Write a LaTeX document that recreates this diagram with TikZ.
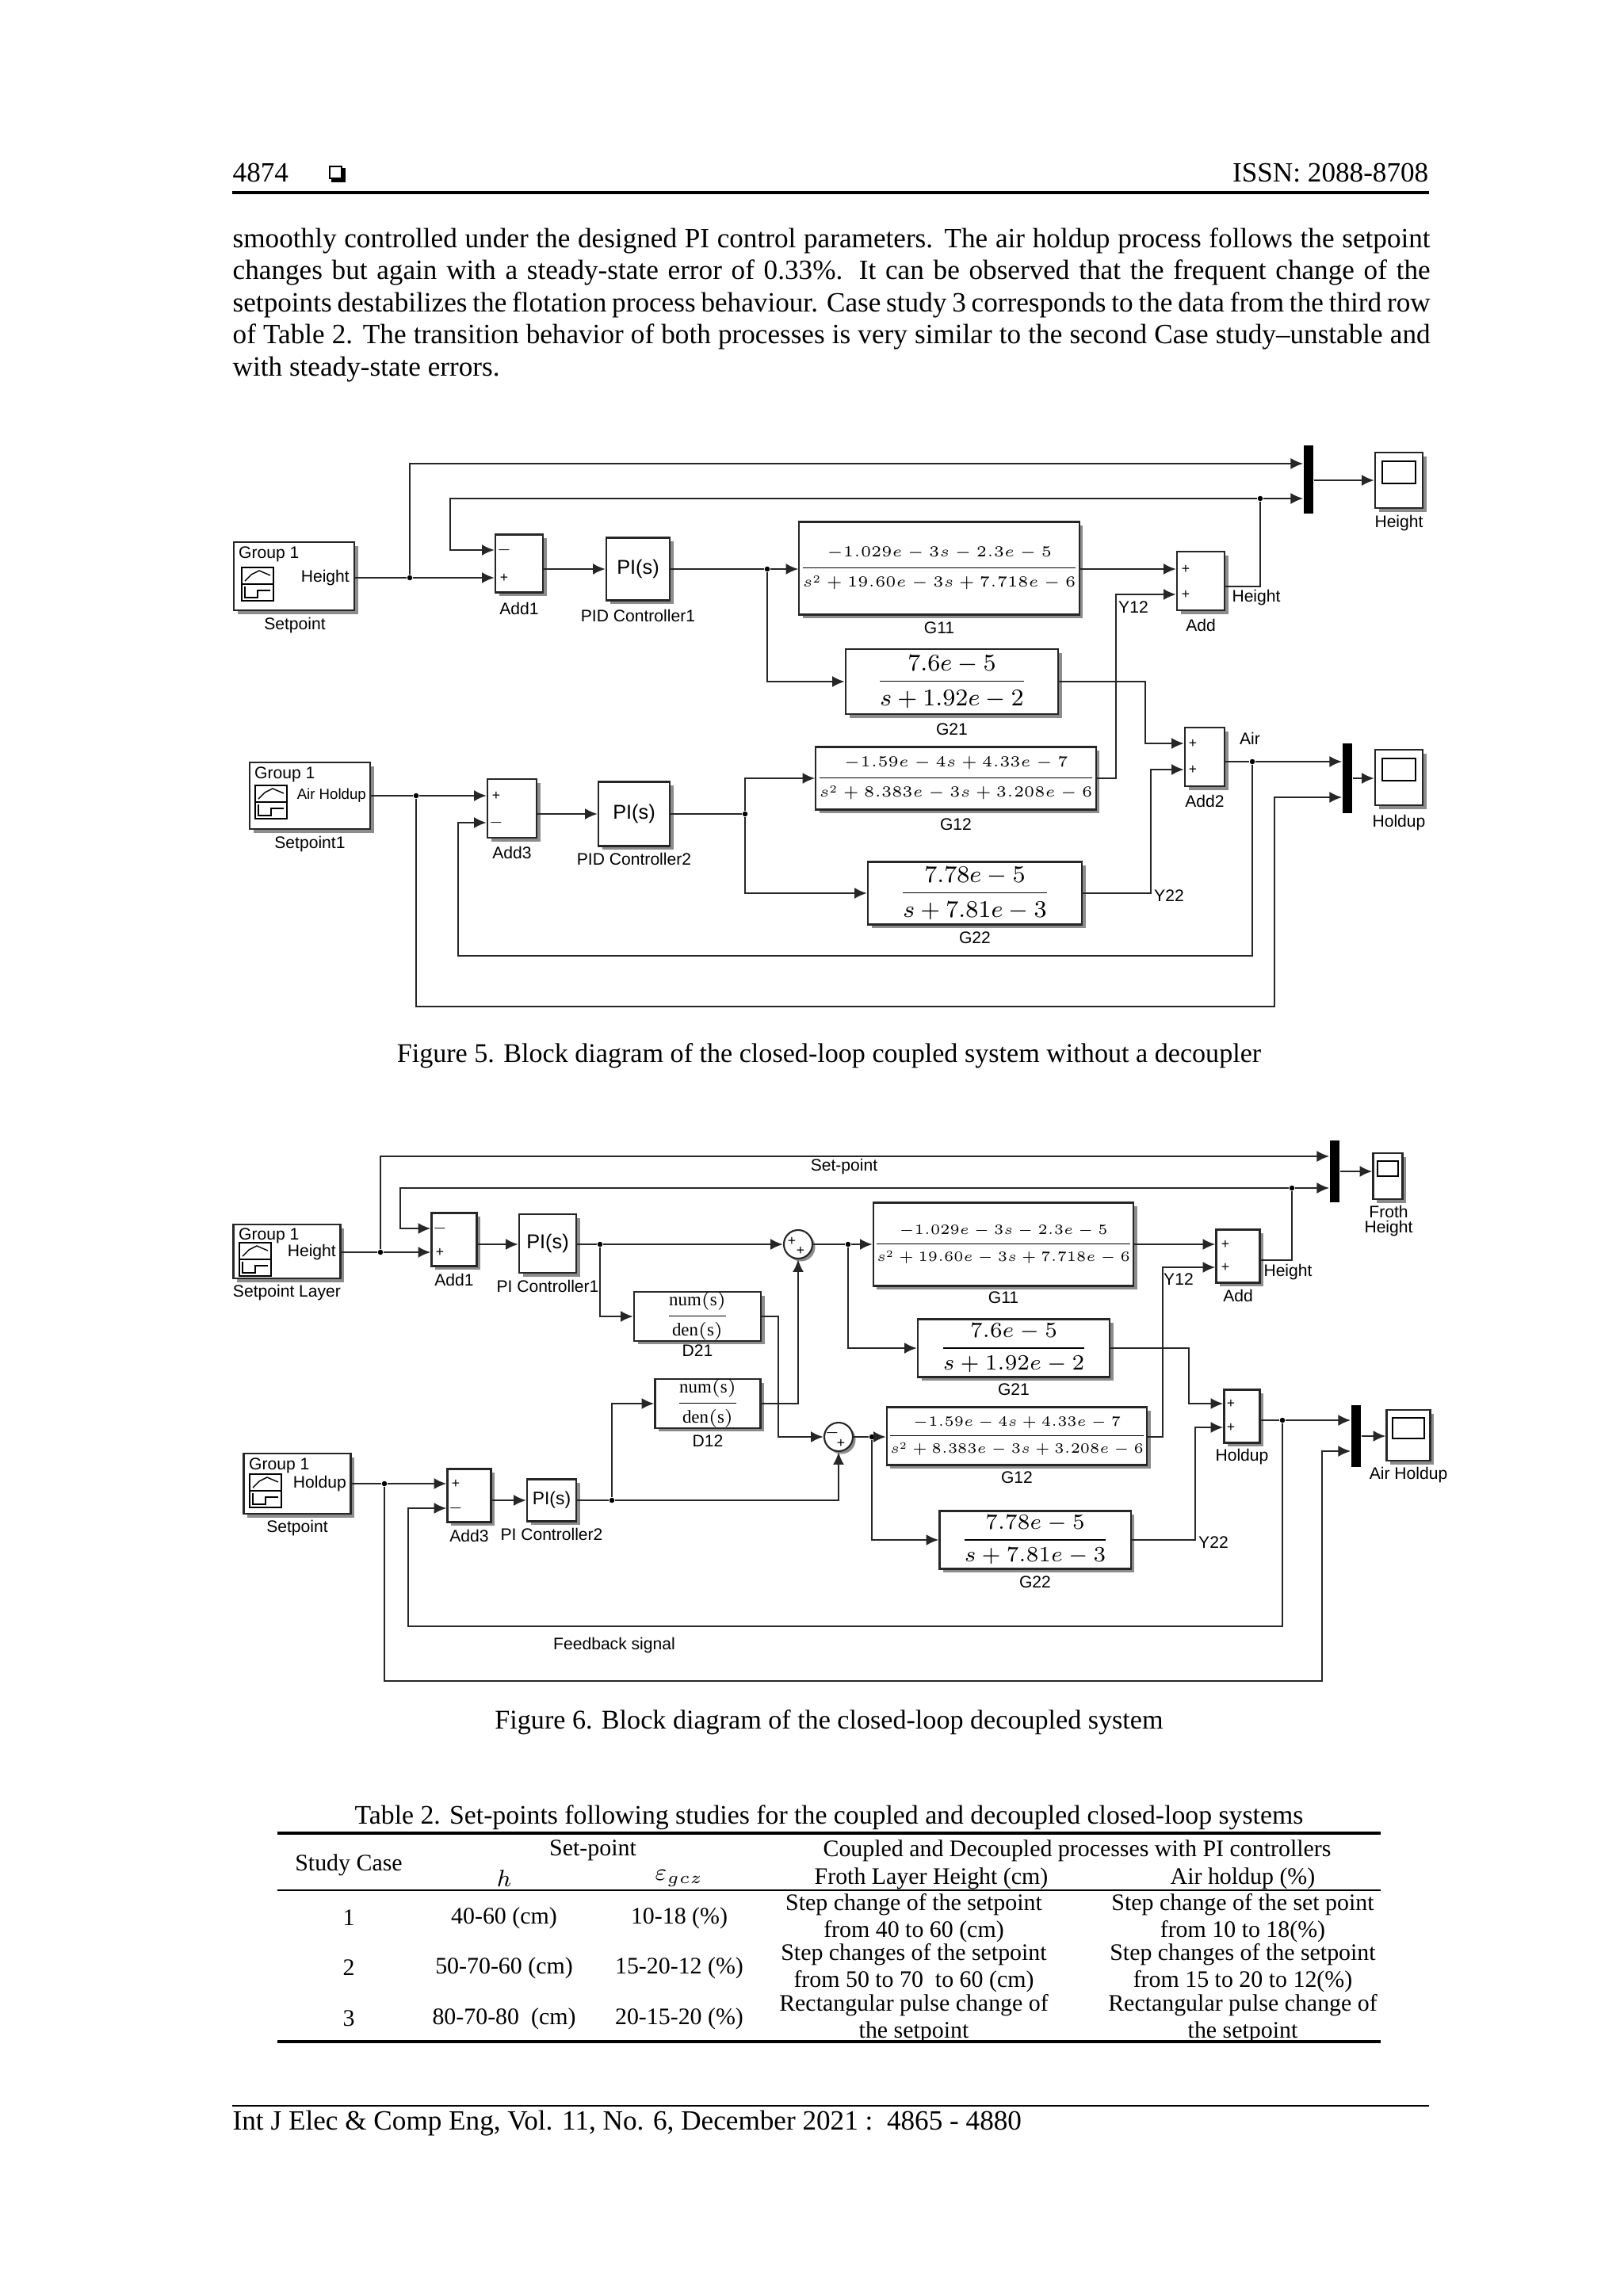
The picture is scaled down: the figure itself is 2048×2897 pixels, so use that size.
\RequirePackage{fix-cm}
\documentclass[tikz,border=0pt]{standalone}
\usepackage{amsmath}
\usepackage{fontspec}
\setmainfont{Liberation Serif}
\newfontfamily\dsf{Liberation Sans}
\usetikzlibrary{arrows.meta,shadows}
\newcommand\sgicon[2]{\begin{scope}[shift={(#1,#2)},line width=0.4pt]
\draw (0,0) rectangle (40,42); \draw (0,21)--(40,21);
\draw (4,17)--(12,9)--(22,4)--(36,10);
\draw (4,24)--(4,38)--(20,38)--(20,29)--(36,29);
\end{scope}}
\begin{document}
\begin{tikzpicture}[x=0.01cm,y=-0.01cm,
 blk/.style={draw=black!85,line width=0.6pt,fill=white,inner sep=0pt,
   drop shadow={shadow xshift=1.3pt,shadow yshift=-1.3pt,fill=black!45,opacity=1}},
 sig/.style={draw=black!85,line width=0.7pt,-{Latex[length=4.5pt,width=4pt]}},
 ln/.style={draw=black!85,line width=0.7pt},
 dot/.style={circle,fill=black,inner sep=0pt,minimum size=0.065cm},
 lab/.style={font=\dsf\fontsize{6}{7}\selectfont,inner sep=1pt},
 sg/.style={font=\dsf\fontsize{5}{5}\selectfont,inner sep=0pt},
 pis/.style={blk,font=\dsf\fontsize{7.2}{8}\selectfont},
 mux/.style={fill=black,inner sep=0pt,minimum width=0.12cm},
 sum/.style={circle,draw=black!85,line width=0.6pt,fill=white,inner sep=0pt,minimum size=0.36cm,
   drop shadow={shadow xshift=1pt,shadow yshift=-1pt,fill=black!45,opacity=1}},
 txt/.style={font=\fontsize{10}{11.5}\selectfont,inner sep=0pt},
 tb/.style={font=\fontsize{8.5}{9.6}\selectfont,inner sep=0pt,align=center}]
\useasboundingbox[fill=white] (0,0) rectangle (2048,2897);
% header
\node[txt,anchor=west] (pg) at (293,218) {4874};
\draw[line width=0.7pt,fill=white] (416,210) rectangle (431,225);
\draw[line width=1.6pt] (433,212)--(433,227)--(418,227);
\node[txt,anchor=east] (issn) at (1803,218) {ISSN: 2088-8708};
\draw[line width=1.3pt] (293,243)--(1803,243);
% paragraph
\node[txt,anchor=north west,text width=15.1cm,align=justify] (par) at (293,287) {smoothly controlled under the designed PI control parameters. The air holdup process follows the setpoint\linebreak changes but again with a steady-state error of 0.33\%. It can be observed that the frequent change of the\linebreak setpoints destabilizes the flotation process behaviour. Case study 3 corresponds to the data from the third row\linebreak of Table 2. The transition behavior of both processes is very similar to the second Case study--unstable and\linebreak with steady-state errors.};
%================ FIGURE 5
\node[blk,minimum width=1.52cm,minimum height=0.86cm] (sp1) at (371,727) {};
\sgicon{305}{716}
\node[lab,anchor=north west] at (297,686) {Group 1};
\node[lab,anchor=east] at (445,729) {Height};
\node[lab] at (372,789) {Setpoint};
\node[dot] (dA) at (517,729) {};
\node[blk,minimum width=0.60cm,minimum height=0.73cm] (add1) at (655,711) {};
\node[sg] at (636,694) {$-$}; \node[sg] at (636,729) {+};
\node[lab] at (655,768) {Add1};
\node[pis,minimum width=0.80cm,minimum height=0.79cm] (pi1) at (805,718) {PI(s)};
\node[lab] at (805,777) {PID Controller1};
\node[dot] (dB) at (968,718) {};
\node[blk,minimum width=3.20cm,minimum height=1.17cm,font=\fontsize{5.5}{6}\selectfont] (g11) at (1185,717) {$\displaystyle\frac{-1.029e-3s-2.3e-5}{s^2+19.60e-3s+7.718e-6}$};
\node[lab] at (1185,792) {G11};
\node[blk,minimum width=2.68cm,minimum height=0.82cm,font=\fontsize{8.6}{9}\selectfont] (g21) at (1201,860) {$\displaystyle\frac{7.6e-5}{s+1.92e-2}$};
\node[lab] at (1201,920) {G21};
\node[blk,minimum width=0.60cm,minimum height=0.74cm] (add) at (1515,733) {};
\node[sg] at (1496,718) {+}; \node[sg] at (1496,750) {+};
\node[lab] at (1515,789) {Add};
\node[lab] at (1585,754) {Height};
\node[lab] at (1430,766) {Y12};
\node[dot] (dC) at (1590,629) {};
\node[mux,minimum height=0.85cm] (mux1) at (1651,605) {};
\node[blk,minimum width=0.60cm,minimum height=0.70cm] (sc1) at (1765,606) {};
\draw[line width=0.5pt] (1744,582) rectangle (1786,610);
\node[lab] at (1765,660) {Height};
\node[blk,minimum width=3.42cm,minimum height=0.79cm,font=\fontsize{5.5}{6}\selectfont] (g12) at (1206,982) {$\displaystyle\frac{-1.59e-4s+4.33e-7}{s^2+8.383e-3s+3.208e-6}$};
\node[lab] at (1206,1040) {G12};
\node[blk,minimum width=0.50cm,minimum height=0.74cm] (add2) at (1520,955) {};
\node[sg] at (1505,938) {+}; \node[sg] at (1505,971) {+};
\node[lab] at (1520,1011) {Add2};
\node[lab] at (1577,932) {Air};
\node[dot] (dD) at (1580,961) {};
\node[mux,minimum height=0.87cm] (mux2) at (1700,982) {};
\node[blk,minimum width=0.60cm,minimum height=0.70cm] (sc2) at (1765,981) {};
\draw[line width=0.5pt] (1744,957) rectangle (1786,985);
\node[lab] at (1765,1038) {Holdup};
\node[blk,minimum width=1.52cm,minimum height=0.84cm] (sp2) at (391,1004) {};
\sgicon{322}{991}
\node[lab,anchor=north west] at (317,964) {Group 1};
\node[lab,anchor=east,font=\dsf\fontsize{5.3}{6}\selectfont] at (466,1004) {Air Holdup};
\node[lab] at (391,1065) {Setpoint1};
\node[dot] (dE) at (525,1004) {};
\node[blk,minimum width=0.62cm,minimum height=0.74cm] (add3) at (646,1020) {};
\node[sg] at (626,1004) {+}; \node[sg] at (626,1038) {$-$};
\node[lab] at (646,1076) {Add3};
\node[pis,minimum width=0.90cm,minimum height=0.81cm] (pi2) at (800,1027) {PI(s)};
\node[lab] at (800,1084) {PID Controller2};
\node[dot] (dF) at (940,1027) {};
\node[blk,minimum width=2.70cm,minimum height=0.79cm,font=\fontsize{8.6}{9}\selectfont] (g22) at (1230,1127) {$\displaystyle\frac{7.78e-5}{s+7.81e-3}$};
\node[lab] at (1230,1183) {G22};
\node[lab,anchor=west] at (1452,1130) {Y22};
% fig5 connectors
\draw[ln] (sp1.east|-0,729) -- (dA);
\draw[sig] (dA) -- (add1.west|-0,729);
\draw[sig] (dA) |- (mux1.west|-0,585);
\draw[sig] (add1.east|-0,718) -- (pi1.west|-0,718);
\draw[ln] (pi1.east|-0,718) -- (dB);
\draw[sig] (dB) -- (g11.west|-0,718);
\draw[sig] (dB) |- (g21.west|-0,860);
\draw[sig] (g11.east|-0,718) -- (add.west|-0,718);
\draw[ln] (add.east|-0,740) -| (dC);
\draw[sig] (dC) -- (mux1.west|-0,629);
\draw[sig] (dC) -- (568,629) |- (add1.west|-0,694);
\draw[sig] (mux1.east|-0,606) -- (sc1.west|-0,606);
\draw[sig] (g12.east|-0,982) -- (1408,982) |- (add.west|-0,750);
\draw[sig] (g21.east|-0,860) -- (1445,860) |- (add2.west|-0,938);
\draw[ln] (add2.east|-0,961) -- (dD);
\draw[sig] (dD) -- (mux2.west|-0,961);
\draw[sig] (dD) |- (578,1206) |- (add3.west|-0,1038);
\draw[sig] (mux2.east|-0,982) -- (sc2.west|-0,982);
\draw[ln] (sp2.east|-0,1004) -- (dE);
\draw[sig] (dE) -- (add3.west|-0,1004);
\draw[sig] (dE) |- (1608,1270) |- (mux2.west|-0,1006);
\draw[sig] (add3.east|-0,1027) -- (pi2.west|-0,1027);
\draw[ln] (pi2.east|-0,1027) -- (dF);
\draw[sig] (dF) |- (g12.west|-0,982);
\draw[sig] (dF) |- (g22.west|-0,1127);
\draw[sig] (g22.east|-0,1127) -- (1452,1127) |- (add2.west|-0,971);
\node[txt,font=\fontsize{9.7}{11}\selectfont] (cap5) at (1046,1332) {Figure 5. Block diagram of the closed-loop coupled system without a decoupler};
%================ FIGURE 6
\node[blk,minimum width=1.35cm,minimum height=0.68cm] (spL) at (362,1579) {};
\sgicon{302}{1568}
\node[lab,anchor=north west] at (297,1546) {Group 1};
\node[lab,anchor=east] at (428,1580) {Height};
\node[lab] at (362,1631) {Setpoint Layer};
\node[dot] (d1) at (480,1580) {};
\node[blk,minimum width=0.57cm,minimum height=0.67cm] (a1) at (573,1564) {};
\node[sg] at (555,1550) {$-$}; \node[sg] at (555,1580) {+};
\node[lab] at (573,1615) {Add1};
\node[pis,minimum width=0.72cm,minimum height=0.74cm] (p1) at (691,1569) {PI(s)};
\node[lab] at (691,1623) {PI Controller1};
\node[dot] (d2) at (757,1570) {};
\node[blk,minimum width=1.60cm,minimum height=0.50cm,font=\fontsize{6.5}{7}\selectfont] (D21) at (880,1661) {$\displaystyle\frac{\mathrm{num(s)}}{\mathrm{den(s)}}$};
\node[lab] at (880,1704) {D21};
\node[sum] (s1) at (1007,1570) {};
\node[sg] at (999,1566) {+}; \node[sg] at (1010,1578) {+};
\node[dot] (d3) at (1070,1570) {};
\node[blk,minimum width=2.87cm,minimum height=1.05cm,font=\fontsize{5.1}{6}\selectfont] (G11) at (1266,1570) {$\displaystyle\frac{-1.029e-3s-2.3e-5}{s^2+19.60e-3s+7.718e-6}$};
\node[lab] at (1266,1637) {G11};
\node[blk,minimum width=2.42cm,minimum height=0.73cm,font=\fontsize{7.8}{8}\selectfont] (G21) at (1279,1701) {$\displaystyle\frac{7.6e-5}{s+1.92e-2}$};
\node[lab] at (1279,1753) {G21};
\node[blk,minimum width=0.55cm,minimum height=0.67cm] (A) at (1562,1585) {};
\node[sg] at (1546,1570) {+}; \node[sg] at (1546,1599) {+};
\node[lab] at (1562,1635) {Add};
\node[lab] at (1625,1605) {Height};
\node[lab] at (1487,1614) {Y12};
\node[dot] (d4) at (1630,1499) {};
\node[mux,minimum height=0.78cm] (M1) at (1684,1478) {};
\node[blk,minimum width=0.37cm,minimum height=0.58cm] (S1) at (1751,1484) {};
\draw[line width=0.5pt] (1738,1465) rectangle (1764,1484);
\node[lab] at (1752,1529) {Froth};
\node[lab] at (1752,1550) {Height};
\node[blk,minimum width=1.33cm,minimum height=0.60cm,font=\fontsize{6.5}{7}\selectfont] (D12) at (893,1771) {$\displaystyle\frac{\mathrm{num(s)}}{\mathrm{den(s)}}$};
\node[lab] at (893,1818) {D12};
\node[sum] (s2) at (1058,1813) {};
\node[sg] at (1050,1808) {$-$}; \node[sg] at (1061,1821) {+};
\node[dot] (d5) at (1100,1813) {};
\node[blk,minimum width=3.07cm,minimum height=0.73cm,font=\fontsize{5.1}{6}\selectfont] (G12) at (1283,1812) {$\displaystyle\frac{-1.59e-4s+4.33e-7}{s^2+8.383e-3s+3.208e-6}$};
\node[lab] at (1283,1864) {G12};
\node[blk,minimum width=2.41cm,minimum height=0.73cm,font=\fontsize{7.8}{8}\selectfont] (G22) at (1306,1943) {$\displaystyle\frac{7.78e-5}{s+7.81e-3}$};
\node[lab] at (1306,1996) {G22};
\node[lab,anchor=west] at (1508,1946) {Y22};
\node[blk,minimum width=0.45cm,minimum height=0.67cm] (H) at (1567,1787) {};
\node[sg] at (1553,1771) {+}; \node[sg] at (1553,1801) {+};
\node[lab] at (1567,1838) {Holdup};
\node[dot] (d6) at (1618,1792) {};
\node[mux,minimum height=0.77cm] (M2) at (1711,1812) {};
\node[blk,minimum width=0.55cm,minimum height=0.64cm] (S2) at (1777,1811) {};
\draw[line width=0.5pt] (1757,1789) rectangle (1797,1815);
\node[lab] at (1777,1861) {Air Holdup};
\node[blk,minimum width=1.35cm,minimum height=0.76cm] (spH) at (375,1872) {};
\sgicon{315}{1860}
\node[lab,anchor=north west] at (310,1836) {Group 1};
\node[lab,anchor=east] at (441,1872) {Holdup};
\node[lab] at (375,1928) {Setpoint};
\node[dot] (d7) at (485,1872) {};
\node[blk,minimum width=0.55cm,minimum height=0.67cm] (a3) at (592,1887) {};
\node[sg] at (575,1872) {+}; \node[sg] at (575,1903) {$-$};
\node[lab] at (592,1938) {Add3};
\node[pis,minimum width=0.62cm,minimum height=0.53cm,font=\dsf\fontsize{6.5}{7}\selectfont] (p2) at (696,1893) {PI(s)};
\node[lab] at (696,1936) {PI Controller2};
\node[dot] (d8) at (772,1893) {};
\node[lab] (spt) at (1065,1472) {Set-point};
\node[lab] (fbs) at (775,2076) {Feedback signal};
% fig6 connectors
\draw[ln] (spL.east|-0,1580) -- (d1);
\draw[sig] (d1) -- (a1.west|-0,1580);
\draw[sig] (d1) |- (M1.west|-0,1459);
\draw[sig] (a1.east|-0,1570) -- (p1.west|-0,1570);
\draw[ln] (p1.east|-0,1570) -- (d2);
\draw[sig] (d2) -- (s1.west);
\draw[sig] (d2) |- (D21.west);
\draw[sig] (D21.east) -- (982,1661) |- (s2.west);
\draw[sig] (D12.east) -| (s1.south);
\draw[ln] (s1.east) -- (d3);
\draw[sig] (d3) -- (G11.west|-0,1570);
\draw[sig] (d3) |- (G21.west);
\draw[sig] (G11.east|-0,1570) -- (A.west|-0,1570);
\draw[ln] (A.east|-0,1590) -| (d4);
\draw[sig] (d4) -- (M1.west|-0,1499);
\draw[sig] (d4) -- (505,1499) |- (a1.west|-0,1550);
\draw[sig] (M1.east|-0,1478) -- (S1.west|-0,1478);
\draw[sig] (G12.east|-0,1813) -- (1467,1813) |- (A.west|-0,1599);
\draw[sig] (G21.east) -- (1500,1701) |- (H.west|-0,1771);
\draw[ln] (H.east|-0,1792) -- (d6);
\draw[sig] (d6) -- (M2.west|-0,1792);
\draw[sig] (d6) |- (515,2052) |- (a3.west|-0,1903);
\draw[sig] (M2.east|-0,1812) -- (S2.west|-0,1812);
\draw[ln] (spH.east|-0,1872) -- (d7);
\draw[sig] (d7) -- (a3.west|-0,1872);
\draw[sig] (d7) |- (1668,2121) |- (M2.west|-0,1831);
\draw[sig] (a3.east|-0,1893) -- (p2.west|-0,1893);
\draw[ln] (p2.east|-0,1893) -- (d8);
\draw[sig] (d8) -| (s2.south);
\draw[sig] (d8) |- (D12.west);
\draw[ln] (s2.east) -- (d5);
\draw[sig] (d5) -- (G12.west|-0,1813);
\draw[sig] (d5) |- (G22.west);
\draw[sig] (G22.east) -- (1508,1943) |- (H.west|-0,1801);
\node[txt,font=\fontsize{9.7}{11}\selectfont] (cap6) at (1046,2173) {Figure 6. Block diagram of the closed-loop decoupled system};
%================ TABLE
\node[txt,font=\fontsize{9.6}{11}\selectfont] (ttl) at (1046,2293) {Table 2. Set-points following studies for the coupled and decoupled closed-loop systems};
\draw[line width=1pt] (350,2313)--(1742,2313);
\draw[line width=0.8pt] (350,2385)--(1742,2385);
\draw[line width=1pt] (350,2576)--(1742,2576);
\node[tb] at (440,2353) {Study Case};
\node[tb] at (748,2335) {Set-point};
\node[tb] at (1359,2335) {Coupled and Decoupled processes with PI controllers};
\node[tb] at (636,2370) {$h$};
\node[tb] at (857,2370) {$\varepsilon_{gcz}$};
\node[tb] at (1175,2370) {Froth Layer Height (cm)};
\node[tb] at (1568,2370) {Air holdup (\%)};
\node[tb] at (440,2420) {1};
\node[tb] at (636,2420) {40-60 (cm)};
\node[tb] at (857,2420) {10-18 (\%)};
\node[tb] at (1153,2420) {Step change of the setpoint\\from 40 to 60 (cm)};
\node[tb] at (1568,2420) {Step change of the set point\\from 10 to 18(\%)};
\node[tb] at (440,2483) {2};
\node[tb] at (636,2483) {50-70-60 (cm)};
\node[tb] at (857,2483) {15-20-12 (\%)};
\node[tb] at (1153,2483) {Step changes of the setpoint\\from 50 to 70~ to 60 (cm)};
\node[tb] at (1568,2483) {Step changes of the setpoint\\from 15 to 20 to 12(\%)};
\node[tb] at (440,2547) {3};
\node[tb] at (636,2547) {80-70-80~ (cm)};
\node[tb] at (857,2547) {20-15-20 (\%)};
\node[tb] at (1153,2547) {Rectangular pulse change of\\the setpoint};
\node[tb] at (1568,2547) {Rectangular pulse change of\\the setpoint};
% footer
\draw[line width=0.8pt] (293,2657)--(1803,2657);
\node[txt,anchor=west] (ft) at (293,2679) {Int J Elec \& Comp Eng, Vol. 11, No. 6, December 2021 :\ \ 4865 - 4880};
\end{tikzpicture}
\end{document}
